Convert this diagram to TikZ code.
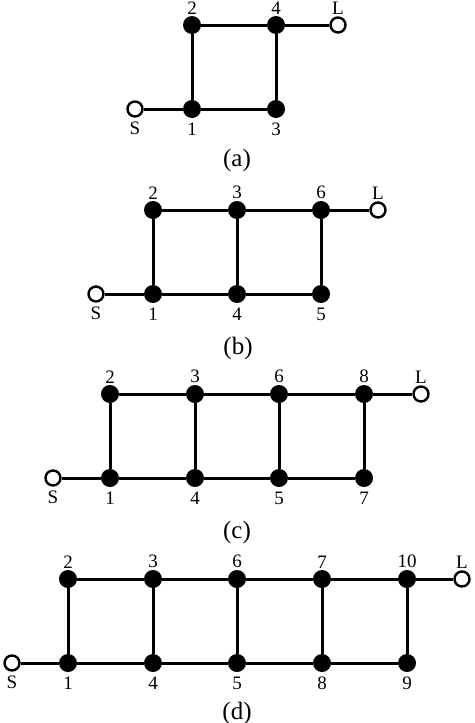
\documentclass[tikz,border=0pt]{standalone}
\usepackage{fontspec}
\setmainfont{Liberation Serif}
\begin{document}
\begin{tikzpicture}[x=1pt,y=-1pt,
  dot/.style={circle,fill=black,inner sep=0pt,minimum size=18pt},
  term/.style={circle,draw=black,fill=white,line width=2.4pt,inner sep=0pt,minimum size=15pt},
  edge/.style={line width=3pt},
  tl/.style={inner sep=0pt,font=\fontsize{19}{22}\selectfont,label distance=1.5pt},
  bl/.style={inner sep=0pt,font=\fontsize{19}{22}\selectfont,label distance=4.5pt},
  captext/.style={inner sep=0pt,font=\fontsize{25}{29}\selectfont}]
\useasboundingbox (0,0) rectangle (474,723);
% ---------- (a)
\node[dot,label={[tl]above:2}] (a2) at (192,25) {};
\node[dot,label={[tl]above:4}] (a4) at (276,25) {};
\node[term,label={[tl]above:L}] (aL) at (338,25) {};
\node[dot,label={[bl]below:1}] (a1) at (192,109) {};
\node[dot,label={[bl]below:3}] (a3) at (276,109) {};
\node[term,label={[bl]below:S}] (aS) at (135,109) {};
\draw[edge] (aS) -- (a1) (a1) -- (a3) (a1) -- (a2) (a2) -- (a4) (a4) -- (a3) (a4) -- (aL);
\node[captext] (capa) at (237,160) {(a)};
% ---------- (b)
\node[dot,label={[tl]above:2}] (b2) at (153,210) {};
\node[dot,label={[tl]above:3}] (b3) at (237,210) {};
\node[dot,label={[tl]above:6}] (b6) at (321,210) {};
\node[term,label={[tl]above:L}] (bL) at (378,210) {};
\node[dot,label={[bl]below:1}] (b1) at (153,294) {};
\node[dot,label={[bl]below:4}] (b4) at (237,294) {};
\node[dot,label={[bl]below:5}] (b5) at (321,294) {};
\node[term,label={[bl]below:S}] (bS) at (96,294) {};
\draw[edge] (bS) -- (b1) (b1) -- (b4) (b4) -- (b5)
  (b2) -- (b3) (b3) -- (b6) (b6) -- (bL)
  (b1) -- (b2) (b4) -- (b3) (b5) -- (b6);
\node[captext] (capb) at (238,348) {(b)};
% ---------- (c)
\node[dot,label={[tl]above:2}] (c2) at (110,394) {};
\node[dot,label={[tl]above:3}] (c3) at (195,394) {};
\node[dot,label={[tl]above:6}] (c6) at (279,394) {};
\node[dot,label={[tl]above:8}] (c8) at (364,394) {};
\node[term,label={[tl]above:L}] (cL) at (421,394) {};
\node[dot,label={[bl]below:1}] (c1) at (110,478) {};
\node[dot,label={[bl]below:4}] (c4) at (195,478) {};
\node[dot,label={[bl]below:5}] (c5) at (279,478) {};
\node[dot,label={[bl]below:7}] (c7) at (364,478) {};
\node[term,label={[bl]below:S}] (cS) at (53,478) {};
\draw[edge] (cS) -- (c1) (c1) -- (c4) (c4) -- (c5) (c5) -- (c7)
  (c2) -- (c3) (c3) -- (c6) (c6) -- (c8) (c8) -- (cL)
  (c1) -- (c2) (c4) -- (c3) (c5) -- (c6) (c7) -- (c8);
\node[captext] (capc) at (237,532) {(c)};
% ---------- (d)
\node[dot,label={[tl]above:2}] (d2) at (68,579) {};
\node[dot,label={[tl]above:3}] (d3) at (153,579) {};
\node[dot,label={[tl]above:6}] (d6) at (237,579) {};
\node[dot,label={[tl]above:7}] (d7) at (322,579) {};
\node[dot,label={[tl]above:10}] (d10) at (407,579) {};
\node[term,label={[tl]above:L}] (dL) at (462,579) {};
\node[dot,label={[bl]below:1}] (d1) at (68,663) {};
\node[dot,label={[bl]below:4}] (d4) at (153,663) {};
\node[dot,label={[bl]below:5}] (d5) at (237,663) {};
\node[dot,label={[bl]below:8}] (d8) at (322,663) {};
\node[dot,label={[bl]below:9}] (d9) at (407,663) {};
\node[term,label={[bl]below:S}] (dS) at (12,663) {};
\draw[edge] (dS) -- (d1) (d1) -- (d4) (d4) -- (d5) (d5) -- (d8) (d8) -- (d9)
  (d2) -- (d3) (d3) -- (d6) (d6) -- (d7) (d7) -- (d10) (d10) -- (dL)
  (d1) -- (d2) (d4) -- (d3) (d5) -- (d6) (d8) -- (d7) (d9) -- (d10);
\node[captext] (capd) at (237,713) {(d)};
\end{tikzpicture}
\end{document}
